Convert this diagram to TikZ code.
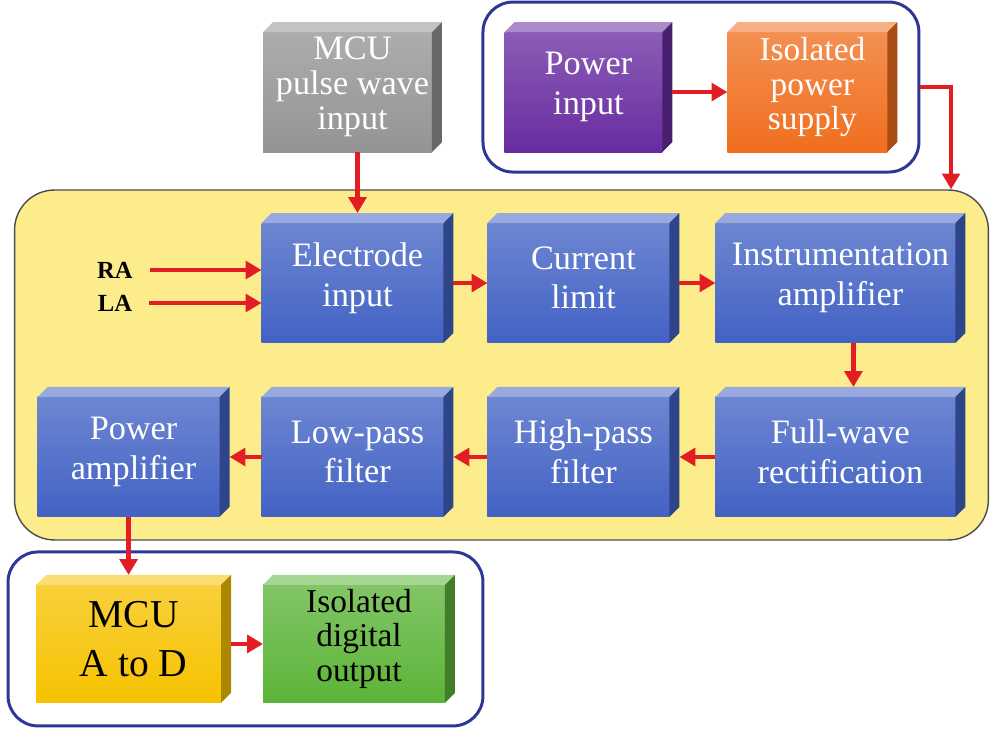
\documentclass[tikz,border=0pt]{standalone}
\usepackage{fontspec}
\setmainfont{Liberation Serif}
\usetikzlibrary{arrows.meta,positioning,calc,fit,backgrounds}

\definecolor{cubeblue}{RGB}{66,98,196}
\definecolor{cubegray}{RGB}{148,148,148}
\definecolor{cubepurple}{RGB}{104,44,160}
\definecolor{cubeorange}{RGB}{240,110,30}
\definecolor{cubegold}{RGB}{246,194,0}
\definecolor{cubegreen}{RGB}{92,180,56}
\definecolor{panelyellow}{RGB}{252,236,140}
\definecolor{framenavy}{RGB}{45,55,150}
\definecolor{arrowred}{RGB}{226,30,36}

\newcommand{\cubedepth}{0.2cm}

\begin{document}
\begin{tikzpicture}[x=0.02cm, y=-0.02cm, node distance=0.68cm,
        cube/.style={rectangle, inner sep=0pt, outer sep=0pt, minimum width=3.84cm, minimum height=2.6cm, text=white, align=center, font=\fontsize{19.5}{22.5}\selectfont,
            path picture={
                \shade[top color=#1!75!white, bottom color=#1] ([yshift=-\cubedepth]path picture bounding box.north west) rectangle ([xshift=-\cubedepth]path picture bounding box.south east);
                \fill[#1!55!white] ([yshift=-\cubedepth]path picture bounding box.north west) -- ([xshift=\cubedepth]path picture bounding box.north west) -- (path picture bounding box.north east) -- ([shift={(-\cubedepth,-\cubedepth)}]path picture bounding box.north east) -- cycle;
                \fill[#1!70!black] ([shift={(-\cubedepth,-\cubedepth)}]path picture bounding box.north east) -- (path picture bounding box.north east) -- ([yshift=\cubedepth]path picture bounding box.south east) -- ([xshift=-\cubedepth]path picture bounding box.south east) -- cycle;
            }},
        wide/.style={minimum width=5cm},
        groupbox/.style={draw=framenavy, line width=1.7pt, rounded corners=0.6cm, inner xsep=0.43cm, inner ysep=0.4cm},
        panel/.style={draw=black!70, fill=panelyellow, line width=0.8pt, rounded corners=0.8cm, inner sep=0.46cm},
        arr/.style={draw=arrowred, line width=2.6pt, -{Triangle[length=9pt,width=10pt]}},
        leadlabel/.style={font=\fontsize{14}{14}\bfseries\selectfont}]

    \useasboundingbox (0,0) rectangle (998,728);

    % signal chain
    \node[cube=cubeblue] (elec) at (357.5,278) {Electrode\\input};
    \node[cube=cubeblue, right=of elec] (curr) {Current\\limit};
    \node[cube=cubeblue, wide, right=0.72cm of curr] (instr) {Instrumentation\\amplifier};
    \node[cube=cubeblue, wide, below=0.88cm of instr] (rect) {Full-wave\\rectification};
    \node[cube=cubeblue, left=0.72cm of rect] (hpf) {High-pass\\filter};
    \node[cube=cubeblue, left=of hpf] (lpf) {Low-pass\\filter};
    \node[cube=cubeblue, left=0.64cm of lpf] (pamp) {Power\\amplifier};

    % inputs and supply
    \node[cube=cubegray, minimum width=3.58cm, above=1.22cm of elec, xshift=-0.1cm, font=\fontsize{19.5}{20}\selectfont] (pulse) {MCU\\pulse wave\\input};
    \node[cube=cubepurple, minimum width=3.36cm, above=1.22cm of curr, xshift=0.1cm] (pin) {Power\\input};
    \node[cube=cubeorange, minimum width=3.4cm, right=1.1cm of pin, font=\fontsize{19}{19.5}\selectfont] (iso) {Isolated\\power\\supply};

    % output stage
    \node[cube=cubegold, text=black, minimum width=3.9cm, minimum height=2.56cm, below=1.16cm of pamp, font=\fontsize{22.5}{28}\selectfont] (adc) {MCU\\A to D};
    \node[cube=cubegreen, text=black, minimum height=2.56cm, right=0.64cm of adc, font=\fontsize{19}{19.5}\selectfont] (dout) {Isolated\\digital\\output};

    \node[leadlabel] (ra) at (115,270) {RA};
    \node[leadlabel] (la) at (115,303) {LA};

    \begin{scope}[on background layer]
        \node[panel, fit=(pamp)(instr)] (board) {};
    \end{scope}
    \node[groupbox, fit=(pin)(iso)] (pbox) {};
    \node[groupbox, fit=(adc)(dout), inner xsep=0.56cm, inner ysep=0.46cm] (obox) {};

    \draw[arr] (pulse.south -| elec.north) -- (elec.north);
    \draw[arr, shorten <=0.22cm] (ra) -- (ra -| elec.west);
    \draw[arr, shorten <=0.22cm] (la) -- (la -| elec.west);
    \draw[arr] ([yshift=-0.1cm]elec.east) -- ([yshift=-0.1cm]curr.west);
    \draw[arr] ([yshift=-0.1cm]curr.east) -- ([yshift=-0.1cm]instr.west);
    \draw[arr] ([xshift=0.26cm]instr.south) -- ([xshift=0.26cm]rect.north);
    \draw[arr] ([yshift=-0.1cm]rect.west) -- ([yshift=-0.1cm]hpf.east);
    \draw[arr] ([yshift=-0.1cm]hpf.west) -- ([yshift=-0.1cm]lpf.east);
    \draw[arr] ([yshift=-0.1cm]lpf.west) -- ([yshift=-0.1cm]pamp.east);
    \draw[arr] ([xshift=-0.1cm]pamp.south) -- ([xshift=-0.1cm]adc.north);
    \draw[arr] ([yshift=-0.1cm]adc.east) -- ([yshift=-0.1cm]dout.west);
    \draw[arr] ([yshift=-0.1cm]pin.east) -- ([yshift=-0.1cm]iso.west);
    \draw[arr] (pbox.east) -| ([xshift=-0.76cm]board.north east);
\end{tikzpicture}
\end{document}
